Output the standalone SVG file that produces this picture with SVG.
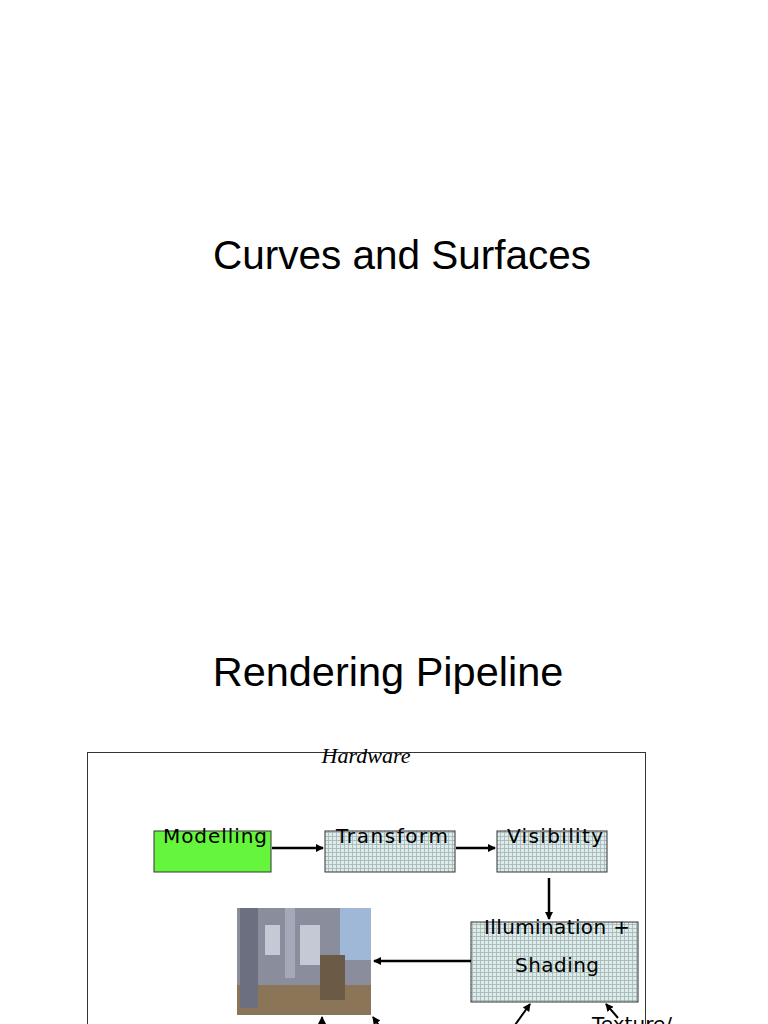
<svg xmlns="http://www.w3.org/2000/svg" width="768" height="1024" viewBox="0 0 768 1024">
<style>
.t{font-family:"Liberation Sans",Arial,sans-serif;fill:#000}
.c{font-family:"DejaVu Sans",sans-serif;font-size:20px;fill:#000}
.box{stroke:#333;stroke-width:1}
.ln{stroke:#000;stroke-width:2.5;fill:none;marker-end:url(#ah)}
.dl{stroke:#000;stroke-width:2;fill:none;marker-end:url(#ah)}
</style>
<defs>
<marker id="ah" markerWidth="8" markerHeight="8" refX="7" refY="4" orient="auto" markerUnits="userSpaceOnUse"><path d="M0,0 L8,4 L0,8 z" fill="#000"/></marker>
<pattern id="grid" width="4" height="4" patternUnits="userSpaceOnUse"><rect width="4" height="4" fill="#dfeaea"/><path d="M0,0.5H4M0.5,0V4" stroke="#9fb5b5" stroke-width="0.8"/></pattern>
</defs>
<rect width="768" height="1024" fill="#fff"/>
<text class="t" x="402" y="269" font-size="40.5" text-anchor="middle">Curves and Surfaces</text>
<text class="t" x="388" y="686" font-size="41.5" text-anchor="middle">Rendering Pipeline</text>
<rect x="87.5" y="752.5" width="558" height="300" fill="none" stroke="#333"/>
<text x="366" y="763" font-family="Liberation Serif,serif" font-style="italic" font-size="22" text-anchor="middle">Hardware</text>
<g id="modelling"><rect class="box" x="154" y="831" width="117" height="41" fill="#66f53d"/><text class="c" x="215" y="843" text-anchor="middle" textLength="104">Modelling</text></g>
<g id="transform"><rect class="box" x="325" y="831" width="130" height="41" fill="url(#grid)"/><text class="c" x="392" y="843" text-anchor="middle" textLength="112">Transform</text></g>
<g id="visibility"><rect class="box" x="497" y="831" width="110" height="41" fill="url(#grid)"/><text class="c" x="555" y="843" text-anchor="middle" textLength="96">Visibility</text></g>
<g id="illumination"><rect class="box" x="471" y="922" width="167" height="80" fill="url(#grid)"/><text class="c" x="557" y="934" text-anchor="middle" textLength="146">Illumination +</text><text class="c" x="557" y="972" text-anchor="middle" textLength="84">Shading</text></g>
<g id="image">
<rect x="237" y="908" width="134" height="107" fill="#8a8d9c"/>
<rect x="237" y="985" width="134" height="30" fill="#8a7556"/>
<rect x="240" y="908" width="18" height="100" fill="#6c6f80"/>
<rect x="285" y="908" width="10" height="70" fill="#a5a8b8"/>
<rect x="340" y="908" width="31" height="52" fill="#9fb8d8"/>
<rect x="320" y="955" width="25" height="45" fill="#6b5a45"/>
<rect x="265" y="925" width="15" height="30" fill="#c5c8d5"/>
<rect x="300" y="925" width="20" height="40" fill="#c5c8d5"/>
</g>
<g id="connectors">
<line class="ln" x1="272" y1="848" x2="323" y2="848"/>
<line class="ln" x1="456" y1="848" x2="495" y2="848"/>
<line class="ln" x1="549" y1="878" x2="549" y2="919"/>
<line class="ln" x1="471" y1="961" x2="374" y2="961"/>
<line class="dl" x1="322" y1="1030" x2="322" y2="1017"/>
<line class="dl" x1="382" y1="1030" x2="373" y2="1017"/>
<line class="dl" x1="515" y1="1025" x2="530" y2="1004"/>
<line class="dl" x1="618" y1="1018" x2="606" y2="1004"/>
</g>
<text class="c" x="592" y="1031" font-size="22">Texture/</text>
</svg>
